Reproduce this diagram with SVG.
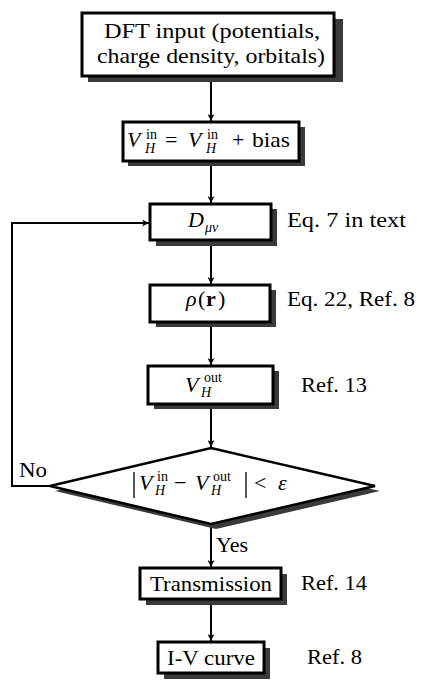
<svg xmlns="http://www.w3.org/2000/svg" width="423" height="686" viewBox="0 0 423 686" font-family="'Liberation Serif', 'DejaVu Serif', serif">
  <style>
    .box { fill: #ffffff; stroke: #000000; stroke-width: 3; }
    .shadow { fill: #3a3a3a; stroke: none; }
    .edge { fill: none; stroke: #000000; stroke-width: 2; }
    .t { font-size: 21px; }
    .m { font-size: 22px; font-style: italic; }
    .up { font-size: 22px; }
    .sup { font-size: 14px; }
    .sub { font-size: 14px; font-style: italic; }
    .note { font-size: 20px; }
  </style>
  <defs>
    <marker id="arrow" viewBox="0 0 10 10" refX="10" refY="5" markerWidth="7" markerHeight="7" orient="auto" markerUnits="userSpaceOnUse">
      <path d="M0,0 L10,5 L0,10 L3,5 Z" fill="#000000"/>
    </marker>
  </defs>

  <rect width="423" height="686" fill="#ffffff"/>

  <!-- connectors -->
  <g id="edges">
    <path class="edge" d="M211,76 L211,121" marker-end="url(#arrow)"/>
    <path class="edge" d="M211,161 L211,203" marker-end="url(#arrow)"/>
    <path class="edge" d="M211,240 L211,284" marker-end="url(#arrow)"/>
    <path class="edge" d="M211,322 L211,365" marker-end="url(#arrow)"/>
    <path class="edge" d="M211,404 L211,447" marker-end="url(#arrow)"/>
    <path class="edge" d="M211,524 L211,567" marker-end="url(#arrow)"/>
    <path class="edge" d="M211,599 L211,641" marker-end="url(#arrow)"/>
    <path class="edge" d="M50,486 L12,486 L12,223 L149,223" marker-end="url(#arrow)"/>
  </g>

  <!-- edge labels -->
  <g id="edge-labels">
    <text class="note" x="19" y="477" textLength="28" lengthAdjust="spacingAndGlyphs">No</text>
    <text class="note" x="216" y="552" textLength="32" lengthAdjust="spacingAndGlyphs">Yes</text>
  </g>

  <!-- DFT input -->
  <g id="n-input">
    <rect class="shadow" x="88" y="19" width="255" height="63"/>
    <rect class="box" x="82" y="13" width="252" height="63"/>
    <text class="t" x="104" y="38" textLength="216" lengthAdjust="spacingAndGlyphs">DFT input (potentials,</text>
    <text class="t" x="97" y="63" textLength="228" lengthAdjust="spacingAndGlyphs">charge density, orbitals)</text>
  </g>

  <!-- bias update -->
  <g id="n-bias">
    <rect class="shadow" x="128" y="127" width="177" height="39"/>
    <rect class="box" x="123" y="122" width="176" height="39"/>
    <text class="m" x="127" y="147">V</text>
    <text class="sup" x="146" y="139">in</text>
    <text class="sub" x="145" y="153">H</text>
    <text class="up" x="165" y="147">=</text>
    <text class="m" x="188" y="147">V</text>
    <text class="sup" x="207" y="139">in</text>
    <text class="sub" x="206" y="153">H</text>
    <text class="up" x="232" y="147">+</text>
    <text class="up" x="252" y="147" textLength="38" lengthAdjust="spacingAndGlyphs">bias</text>
  </g>

  <!-- density matrix -->
  <g id="n-density-matrix">
    <rect class="shadow" x="156" y="209" width="121" height="37"/>
    <rect class="box" x="150" y="204" width="121" height="36"/>
    <text class="m" x="188" y="227">D</text>
    <text class="sub" x="205" y="232">μν</text>
    <text class="note" x="287" y="227" textLength="119" lengthAdjust="spacingAndGlyphs">Eq. 7 in text</text>
  </g>

  <!-- charge density -->
  <g id="n-rho">
    <rect class="shadow" x="156" y="290" width="120" height="37"/>
    <rect class="box" x="150" y="285" width="120" height="37"/>
    <text class="m" x="186" y="306">ρ</text>
    <text class="up" x="198" y="306">(</text>
    <text class="up" x="206" y="306" font-weight="bold">r</text>
    <text class="up" x="218" y="306">)</text>
    <text class="note" x="287" y="306" textLength="128" lengthAdjust="spacingAndGlyphs">Eq. 22, Ref. 8</text>
  </g>

  <!-- output potential -->
  <g id="n-vout">
    <rect class="shadow" x="154" y="371" width="125" height="38"/>
    <rect class="box" x="148" y="366" width="125" height="38"/>
    <text class="m" x="185" y="392">V</text>
    <text class="sup" x="204" y="382">out</text>
    <text class="sub" x="201" y="397">H</text>
    <text class="note" x="301" y="392" textLength="66" lengthAdjust="spacingAndGlyphs">Ref. 13</text>
  </g>

  <!-- convergence test -->
  <g id="n-converged">
    <polygon class="shadow" points="216,453 380,491 216,529 55,491"/>
    <polygon points="211,448 375,486 211,524 50,486" fill="#ffffff" stroke="#000000" stroke-width="2.5"/>
    <path d="M134,472 L134,498 M246,472 L246,498" stroke="#000000" stroke-width="1.3" fill="none"/>
    <text class="m" x="139" y="490">V</text>
    <text class="sup" x="157" y="481">in</text>
    <text class="sub" x="155" y="495">H</text>
    <text class="up" x="174" y="490">−</text>
    <text class="m" x="195" y="490">V</text>
    <text class="sup" x="213" y="481">out</text>
    <text class="sub" x="211" y="495">H</text>
    <text class="up" x="254" y="490">&lt;</text>
    <text class="m" x="278" y="490">ε</text>
  </g>

  <!-- transmission -->
  <g id="n-transmission">
    <rect class="shadow" x="146" y="574" width="141" height="31"/>
    <rect class="box" x="140" y="568" width="141" height="31"/>
    <text class="t" x="150" y="591" textLength="122" lengthAdjust="spacingAndGlyphs">Transmission</text>
    <text class="note" x="301" y="590" textLength="66" lengthAdjust="spacingAndGlyphs">Ref. 14</text>
  </g>

  <!-- I-V curve -->
  <g id="n-iv">
    <rect class="shadow" x="164" y="648" width="106" height="31"/>
    <rect class="box" x="158" y="642" width="106" height="31"/>
    <text class="t" x="167" y="665" textLength="88" lengthAdjust="spacingAndGlyphs">I-V curve</text>
    <text class="note" x="307" y="664" textLength="55" lengthAdjust="spacingAndGlyphs">Ref. 8</text>
  </g>
</svg>
